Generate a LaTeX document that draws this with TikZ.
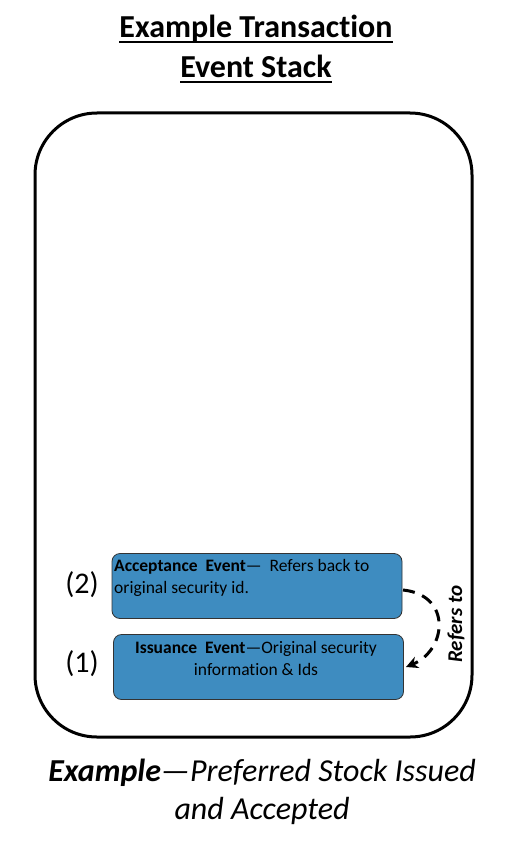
\documentclass[tikz,border=0pt]{standalone}
\usepackage{fontspec}
\setmainfont{Carlito}[Ligatures={NoCommon,NoRare}]
\usetikzlibrary{arrows.meta}
\definecolor{evblue}{RGB}{62,140,192}
\tikzset{
  evbox/.style={draw=black!80, line width=0.8pt, fill=evblue, rounded corners=8pt, minimum width=290pt, minimum height=65pt, inner sep=2pt},
  numlbl/.style={font=\fontsize{30}{34}\selectfont},
  boxtxt/.style={font=\fontsize{17.5}{22}\selectfont},
  titletxt/.style={font=\bfseries\fontsize{32}{40}\selectfont, inner sep=0pt},
  uline/.style={line width=2.4pt}
}
\begin{document}
\begin{tikzpicture}[x=1pt,y=-1pt]
\useasboundingbox (0,0) rectangle (512,856);
\fill[white] (0,0) rectangle (512,856);
% title
\node[titletxt, anchor=base] (t1) at (256,38) {Example Transaction};
\node[titletxt, anchor=base] (t2) at (256,78) {Event Stack};
\draw[uline] ([yshift=-4pt]t1.base west) -- ([yshift=-4pt]t1.base east);
\draw[uline] ([yshift=-4pt]t2.base west) -- ([yshift=-4pt]t2.base east);
% container
\draw[line width=3pt, rounded corners=62pt] (35,113) rectangle (472,737);
\node (cont) at (253,425) {};
% boxes
\node[evbox] (acc) at (257,586) {};
\node[evbox] (iss) at (258.5,667) {};
\node[boxtxt, anchor=north west, align=left, inner sep=0pt] (acctxt) at (114,559)
  {\textbf{Acceptance\ \ Event}—\ \ Refers back to\\original security id.};
\node[boxtxt, align=center, inner sep=0pt] (isstxt) at (256,658)
  {\textbf{Issuance\ \ Event}—Original security\\information \& Ids};
\node[numlbl] (n2) at (82,585) {(2)};
\node[numlbl] (n1) at (82,664) {(1)};
% arrow
\coordinate (a1) at (403,590);
\coordinate (a2) at (406,667);
\draw[line width=3pt, dash pattern=on 12pt off 8pt, -{Stealth[length=12pt,width=12pt]}]
  (a1) .. controls (452,595) and (447,650) .. (a2);
\node[rotate=90, font=\bfseries\itshape\fontsize{21}{24}\selectfont] (ref) at (456,624) {Refers to};
% caption
\node[font=\itshape\fontsize{32}{38}\selectfont, align=center] (cap) at (262,792)
  {\textbf{Example}—Preferred Stock Issued\\and Accepted};
\end{tikzpicture}
\end{document}
